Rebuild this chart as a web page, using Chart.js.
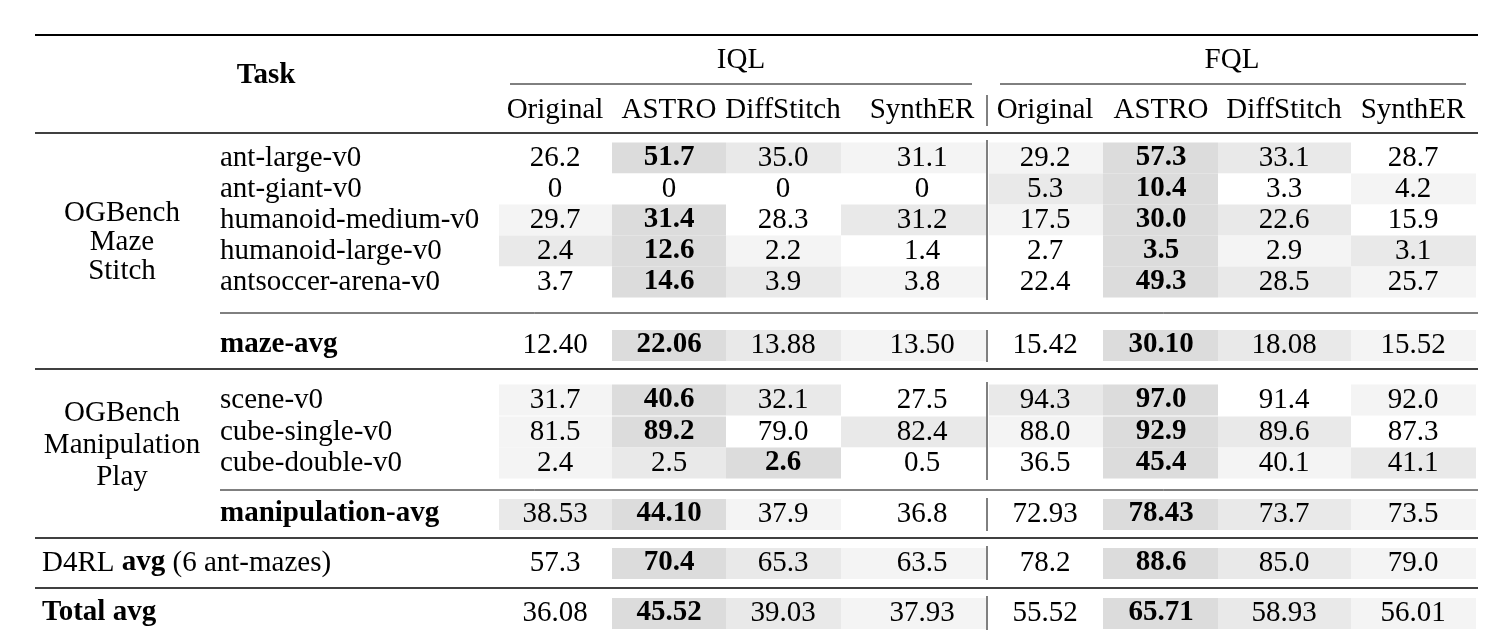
<!DOCTYPE html>
<html>
<head>
<meta charset="utf-8">
<script src="https://cdn.jsdelivr.net/npm/chart.js@4.4.0/dist/chart.umd.min.js"></script>
<style>
  html, body { margin: 0; padding: 0; background: #fff; }
  #wrap { width: 1512px; height: 632px; }
</style>
</head>
<body>
<div id="wrap"><canvas id="tbl"></canvas></div>
<script>
// table data
const methods = ['Original', 'ASTRO', 'DiffStitch', 'SynthER'];
const groups = ['IQL', 'FQL'];
const mazeTasks = ['ant-large-v0', 'ant-giant-v0', 'humanoid-medium-v0', 'humanoid-large-v0', 'antsoccer-arena-v0'];
const mazeValues = [
    ['26.2', '51.7', '35.0', '31.1', '29.2', '57.3', '33.1', '28.7'],
    ['0', '0', '0', '0', '5.3', '10.4', '3.3', '4.2'],
    ['29.7', '31.4', '28.3', '31.2', '17.5', '30.0', '22.6', '15.9'],
    ['2.4', '12.6', '2.2', '1.4', '2.7', '3.5', '2.9', '3.1'],
    ['3.7', '14.6', '3.9', '3.8', '22.4', '49.3', '28.5', '25.7']
];
const mazeAvg = ['12.40', '22.06', '13.88', '13.50', '15.42', '30.10', '18.08', '15.52'];
const manipTasks = ['scene-v0', 'cube-single-v0', 'cube-double-v0'];
const manipValues = [
    ['31.7', '40.6', '32.1', '27.5', '94.3', '97.0', '91.4', '92.0'],
    ['81.5', '89.2', '79.0', '82.4', '88.0', '92.9', '89.6', '87.3'],
    ['2.4', '2.5', '2.6', '0.5', '36.5', '45.4', '40.1', '41.1']
];
const manipAvg = ['38.53', '44.10', '37.9', '36.8', '72.93', '78.43', '73.7', '73.5'];
const d4rlAvg = ['57.3', '70.4', '65.3', '63.5', '78.2', '88.6', '85.0', '79.0'];
const totalAvg = ['36.08', '45.52', '39.03', '37.93', '55.52', '65.71', '58.93', '56.01'];

// layout (in scale units = pixels)
const colEdges = [499, 612, 726, 841, 986, 989, 1103, 1218, 1351, 1476];
const colCenters = [555, 669, 783, 922, 1045, 1161, 1284, 1413];
const rowH = 31;
const mazeRowY = [158, 189, 220, 251, 282];
const manipRowY = [400, 432, 463];

const FONT = '"Liberation Serif", "DejaVu Serif", serif';
const FS = 29;
const shades = ['#dcdcdc', '#e9e9e9', '#f4f4f4', '#ffffff'];

function rankShades(vals) {
    const out = [];
    for (let g = 0; g < 2; g++) {
        const part = vals.slice(g * 4, g * 4 + 4).map(Number);
        const allSame = part.every(v => v === part[0]);
        part.forEach(v => {
            if (allSame) { out.push({ fill: '#ffffff', bold: false }); return; }
            const rank = part.filter(o => o > v).length;
            out.push({ fill: shades[rank], bold: rank === 0 });
        });
    }
    return out;
}

const tablePlugin = {
    id: 'tablePlugin',
    afterDraw(chart) {
        const ctx = chart.ctx;
        const xs = chart.scales.x, ys = chart.scales.y;
        const X = v => xs.getPixelForValue(v);
        const Y = v => ys.getPixelForValue(v);

        function txt(s, x, y, bold, align) {
            ctx.font = (bold ? 'bold ' : '') + FS + 'px ' + FONT;
            ctx.textAlign = align || 'center';
            ctx.textBaseline = 'middle';
            ctx.fillStyle = '#000';
            ctx.fillText(s, X(x), Y(y));
        }
        function hline(x0, x1, y, w) {
            ctx.strokeStyle = '#000';
            ctx.lineWidth = w;
            ctx.beginPath();
            ctx.moveTo(X(x0), Y(y));
            ctx.lineTo(X(x1), Y(y));
            ctx.stroke();
        }
        function vline(x, y0, y1) {
            ctx.strokeStyle = '#000';
            ctx.lineWidth = 1;
            ctx.beginPath();
            ctx.moveTo(X(x), Y(y0));
            ctx.lineTo(X(x), Y(y1));
            ctx.stroke();
        }
        function dataRow(vals, yc, top, bottom) {
            const st = rankShades(vals);
            vals.forEach((v, i) => {
                const ci = i < 4 ? i : i + 1;
                const x0 = colEdges[ci], x1 = colEdges[ci + 1];
                ctx.fillStyle = st[i].fill;
                ctx.fillRect(X(x0), Y(top), X(x1) - X(x0), Y(bottom) - Y(top));
            });
            vals.forEach((v, i) => txt(v, colCenters[i], yc, st[i].bold));
        }

        ctx.save();
        // shaded data cells
        mazeValues.forEach((r, i) => dataRow(r, mazeRowY[i], mazeRowY[i] - rowH / 2, mazeRowY[i] + rowH / 2));
        dataRow(mazeAvg, 345, 330, 361);
        manipValues.forEach((r, i) => dataRow(r, manipRowY[i], manipRowY[i] - rowH / 2, manipRowY[i] + rowH / 2));
        dataRow(manipAvg, 514, 499, 530);
        dataRow(d4rlAvg, 563, 548, 579);
        dataRow(totalAvg, 613, 598, 629);

        // header
        txt('Task', 266, 76, true);
        txt(groups[0], 741, 60);
        txt(groups[1], 1232, 60);
        methods.concat(methods).forEach((m, i) => txt(m, colCenters[i], 110));

        // group labels and task names
        ['OGBench', 'Maze', 'Stitch'].forEach((s, i) => txt(s, 122, 213 + i * 29));
        ['OGBench', 'Manipulation', 'Play'].forEach((s, i) => txt(s, 122, 413 + i * 32));
        mazeTasks.forEach((t, i) => txt(t, 220, mazeRowY[i], false, 'left'));
        manipTasks.forEach((t, i) => txt(t, 220, manipRowY[i], false, 'left'));
        txt('maze-avg', 220, 345, true, 'left');
        txt('manipulation-avg', 220, 514, true, 'left');

        ctx.font = FS + 'px ' + FONT;
        const wA = ctx.measureText('D4RL ').width;
        txt('D4RL ', 42, 563, false, 'left');
        ctx.font = 'bold ' + FS + 'px ' + FONT;
        const wB = ctx.measureText('avg ').width;
        txt('avg', 42 + wA, 563, true, 'left');
        txt('(6 ant-mazes)', 42 + wA + wB, 563, false, 'left');
        txt('Total avg', 42, 613, true, 'left');

        // rules
        hline(35, 1478, 35, 2);
        hline(510, 972, 84, 1);
        hline(1000, 1466, 84, 1);
        hline(35, 1478, 133, 1.5);
        hline(220, 1478, 313, 1);
        hline(35, 1478, 369, 1.5);
        hline(220, 1478, 490, 1);
        hline(35, 1478, 538, 1.5);
        hline(35, 1478, 588, 1.5);

        // vertical separator between IQL and FQL
        vline(987, 95, 126);
        vline(987, 140, 300);
        vline(987, 330, 362);
        vline(987, 382, 480);
        vline(987, 498, 531);
        vline(987, 546, 580);
        vline(987, 596, 630);
        ctx.restore();
    }
};

new Chart(document.getElementById('tbl'), {
    type: 'scatter',
    data: { datasets: [{ data: [], pointRadius: 0 }] },
    options: {
        responsive: true,
        maintainAspectRatio: false,
        animation: false,
        layout: { padding: 0 },
        plugins: { legend: { display: false }, tooltip: { enabled: false } },
        scales: {
            x: { type: 'linear', min: 0, max: 1512, display: false },
            y: { type: 'linear', min: 0, max: 632, reverse: true, display: false }
        }
    },
    plugins: [tablePlugin]
});
</script>
</body>
</html>
